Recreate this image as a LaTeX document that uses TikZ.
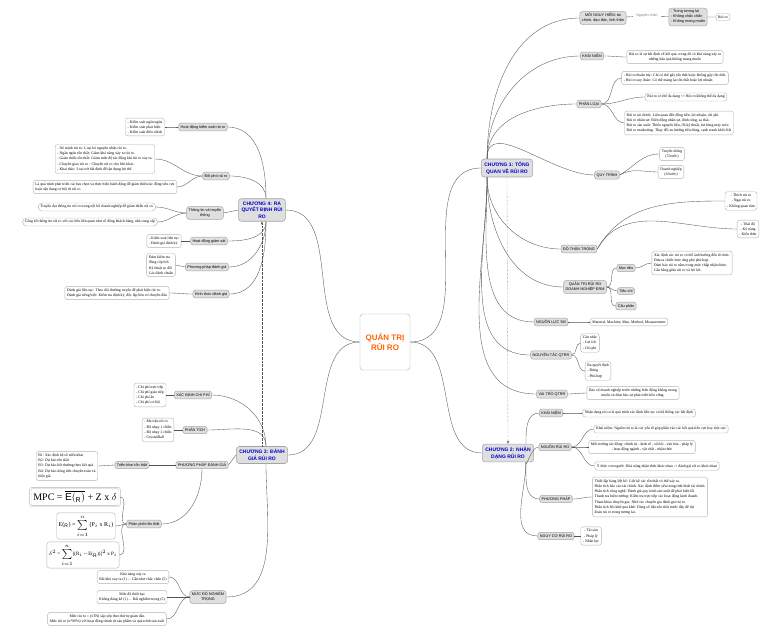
\documentclass[tikz,border=0pt]{standalone}
\usepackage{fontspec}
\setmainfont{Liberation Sans}
\newfontfamily\serf{Liberation Serif}
\usetikzlibrary{arrows.meta}
\begin{document}
\begin{tikzpicture}[x=1pt,y=-1pt,
  chap/.style={draw=gray!70,fill=gray!25,rounded corners=3pt,text=blue!80!black,font=\fontsize{5}{6.5}\selectfont\bfseries,align=center,inner sep=3pt,line width=0.6pt},
  sub/.style={draw=gray!70,fill=gray!25,rounded corners=2.5pt,font=\fontsize{3.8}{5}\selectfont,align=center,inner sep=2pt,line width=0.5pt},
  leaf/.style={draw=gray!60,fill=white,rounded corners=2.5pt,font=\serf\fontsize{3.8}{5.3}\selectfont,align=left,inner sep=2.2pt,line width=0.4pt},
  leafc/.style={leaf,align=center},
  ed/.style={draw=gray!65!black,line width=0.35pt},
  lr/.style={ed,out=0,in=180},
  rl/.style={ed,out=180,in=0}]
\useasboundingbox (0,0) rectangle (768,635);
\fill[white] (0,0) rectangle (768,635);

% center
\node[draw=gray!60,rounded corners=3pt,minimum width=50,minimum height=56,text=orange!80!red,font=\fontsize{8}{10}\selectfont\bfseries,align=center] (ctr) at (385,342) {QUẢN TRỊ\\RỦI RO};
\node[chap] (c1) at (507,168) {CHƯƠNG 1: TỔNG\\QUAN VỀ RỦI RO};
\node[chap] (c2) at (508,453) {CHƯƠNG 2: NHẬN\\DẠNG RỦI RO};
\node[chap] (c4) at (262,210) {CHƯƠNG 4: RA\\QUYẾT ĐỊNH RỦI\\RO};
\node[chap] (c3) at (262,455) {CHƯƠNG 3: ĐÁNH\\GIÁ RỦI RO};
\draw[ed] (ctr.east) to[out=0,in=180] (c1.west);
\draw[ed] (ctr.east) to[out=0,in=180] (c2.west);
\draw[ed] (ctr.west) to[out=180,in=0] (c4.east);
\draw[ed] (ctr.west) to[out=180,in=0] (c3.east);
\draw[ed,densely dotted,-{Stealth[length=3pt]}] (c1.south) -- (c2.north);
\draw[ed,densely dotted,-{Stealth[length=3pt]}] (c3.north) -- (c4.south);

% ---- chapter 1
\coordinate (c1t) at ([xshift=6]c1.north west);
\coordinate (c1b) at ([xshift=6]c1.south west);
\node[sub] (mn) at (603,18) {MỐI NGUY HIỂM: tài\\chính, đạo đức, tinh thần};
\node[font=\fontsize{3.6}{4}\selectfont,text=gray] (nn) at (647,16) {Nguyên nhân};
\node[sub,align=left] (tl) at (688,17) {- Trong tương lai\\- Không chắc chắn\\- Không mong muốn};
\node[leaf] (rr) at (723,17) {Rủi ro};
\draw[ed] (mn) -- (nn) -- (tl) -- (rr);
\node[sub] (kn) at (592,56) {KHÁI NIỆM};
\node[leafc] (knl) at (675,57) {Rủi ro là sự bất định về kết quả, trong đó có khả năng xảy ra\\những hậu quả không mong muốn};
\node[sub] (pl) at (589,104) {PHÂN LOẠI};
\node[leaf] (pl1) at (675,78) {- Rủi ro thuần túy: Chỉ có thể gây tổn thất hoặc không gây tổn thất.\\- Rủi ro suy đoán: Có thể mang lại tổn thất hoặc lợi nhuận};
\node[leaf] (pl2) at (686,97) {Rủi ro có thể đa dạng <> Rủi ro không thể đa dạng};
\node[leaf] (pl3) at (679,123) {Rủi ro tài chính: Liên quan đến đồng tiền, lợi nhuận, chi phí.\\Rủi ro nhân sự: Biến động nhân sự, đình công, sa thải.\\Rủi ro sản xuất: Thiếu nguyên liệu, lỗi kỹ thuật, hư hỏng máy móc.\\Rủi ro marketing: Thay đổi xu hướng tiêu dùng, cạnh tranh khốc liệt};
\node[sub] (qt) at (607,175) {QUY TRÌNH};
\node[leafc] (qt1) at (672,154) {Truyền thống\\(5 bước)};
\node[leafc] (qt2) at (671,172) {Doanh nghiệp\\(6 bước)};
\node[sub] (dt) at (579,249) {ĐỘ THẬN TRỌNG};
\node[leafc] (dt1) at (741,201) {- Thích rủi ro\\- Ngại rủi ro\\- Không quan tâm};
\node[leafc] (dt2) at (748,229) {- Thái độ\\- Kỹ năng\\- Kiến thức};
\node[sub] (erm) at (585,287) {QUẢN TRỊ RỦI RO\\DOANH NGHIỆP ERM};
\node[sub] (mt) at (626,268) {Mục tiêu};
\node[leaf] (mtl) at (692,263) {Xác định các rủi ro có thể ảnh hưởng đến tổ chức.\\Đưa ra chiến lược ứng phó phù hợp.\\Đảm bảo rủi ro nằm trong mức chấp nhận được.\\Cân bằng giữa rủi ro và lợi ích.};
\node[sub] (tc) at (626,291) {Tiêu chí};
\node[sub] (cp) at (626,306) {Cấu phần};
\node[sub] (nl) at (551,322) {NGUỒN LỰC 5M};
\node[leaf] (nll) at (629,322) {Material, Machine, Man, Method, Measurement};
\node[sub] (ng) at (551,355) {NGUYÊN TẮC QTRR};
\node[leaf] (ng1) at (590,343) {Cân nhắc\\- Lợi ích\\- Chi phí};
\node[leaf] (ng2) at (598,371) {Ra quyết định\\- Đúng\\- Phù hợp};
\node[sub] (vt) at (552,394) {VAI TRÒ QTRR};
\node[leafc] (vtl) at (633,393) {Bảo vệ doanh nghiệp trước những biến động không mong\\muốn và đảm bảo sự phát triển bền vững.};
\foreach \n in {mn,kn,pl,qt} \draw[ed] (c1t) to[out=90,in=180] (\n.west);
\foreach \n in {dt,erm,nl,ng,vt} \draw[ed] (c1b) to[out=-90,in=180] (\n.west);
\draw[lr] (kn.east) to (knl.west);
\foreach \n in {pl1,pl2,pl3} \draw[ed] (pl.east) to[out=0,in=180] (\n.west);
\foreach \n in {qt1,qt2} \draw[ed] (qt.east) to[out=30,in=180] (\n.west);
\foreach \n in {dt1,dt2} \draw[ed] (dt.east) to[out=60,in=180] (\n.west);
\foreach \n in {mt,tc,cp} \draw[ed] (erm.east) to[out=0,in=180] (\n.west);
\draw[lr] (mt.east) to (mtl.west);
\draw[lr] (nl.east) to (nll.west);
\foreach \n in {ng1,ng2} \draw[ed] (ng.east) to[out=0,in=180] (\n.west);
\draw[lr] (vt.east) to (vtl.west);

% ---- chapter 2
\coordinate (c2t) at ([xshift=-8]c2.north east);
\coordinate (c2b) at ([xshift=-8]c2.south east);
\node[sub] (kn2) at (551,413) {KHÁI NIỆM};
\node[leaf] (kn2l) at (639,413) {Nhận dạng rủi ro là quá trình xác định liên tục và hệ thống các bất định};
\node[sub] (ngr) at (555,447) {NGUỒN RỦI RO};
\node[leaf] (ngr1) at (661,429) {Khái niệm: Nguồn rủi ro là các yếu tố góp phần vào các kết quả tiêu cực hay tích cực};
\node[leafc] (ngr2) at (642,447) {Môi trường tác động: chính trị - kinh tế - xã hội - văn hóa - pháp lý\\- hoạt động ngành - vật chất - nhận thức};
\node[leaf] (ngr3) at (657,466) {Ý thức con người: Khả năng nhận thức khác nhau -> đánh giá rủi ro khác nhau};
\node[sub] (pp) at (556,499) {PHƯƠNG PHÁP};
\node[leaf] (ppl) at (650,497) {Thiết lập bảng liệt kê: Liệt kê các tổn thất có thể xảy ra.\\Phân tích báo cáo tài chính: Xác định điểm yếu trong tình hình tài chính.\\Phân tích công nghệ: Đánh giá quy trình sản xuất để phát hiện lỗi.\\Thanh tra hiện trường: Kiểm tra trực tiếp các hoạt động kinh doanh.\\Tham khảo chuyên gia: Nhờ các chuyên gia đánh giá rủi ro.\\Phân tích hồi khứ quá khứ: Dùng số liệu tổn thất trước đây để dự\\đoán rủi ro trong tương lai.};
\node[sub] (nc) at (556,536) {NGUY CƠ RỦI RO};
\node[leafc] (ncl) at (591,536) {- Tài sản\\- Pháp lý\\- Nhân lực};
\draw[ed] (c2t) to[out=90,in=180] (kn2.west);
\foreach \n in {ngr,pp,nc} \draw[ed] (c2b) to[out=-90,in=180] (\n.west);
\draw[lr] (kn2.east) to (kn2l.west);
\foreach \n in {ngr1,ngr2,ngr3} \draw[ed] (ngr.east) to[out=0,in=180] (\n.west);
\draw[lr] (pp.east) to (ppl.west);
\draw[lr] (nc.east) to (ncl.west);

% ---- chapter 4
\coordinate (c4t) at ([xshift=4]c4.north);
\coordinate (c4b) at ([xshift=4]c4.south);
\node[sub] (hk) at (203,127) {Hoạt động kiểm soát rủi ro};
\node[leaf] (hkl) at (145,127) {- Kiểm soát ngăn ngừa\\- Kiểm soát phát hiện\\- Kiểm soát điều chỉnh};
\node[sub] (dp) at (216,176) {Đối phó rủi ro};
\node[leaf] (dp1) at (105,159) {- Né tránh rủi ro: Loại bỏ nguyên nhân rủi ro.\\- Ngăn ngừa tổn thất: Giảm khả năng xảy ra rủi ro.\\- Giảm thiểu tổn thất: Giảm mức độ tác động khi rủi ro xảy ra.\\- Chuyển giao rủi ro : Chuyển rủi ro cho bên khác.\\- Khai thác: Loại trừ bất định để tận dụng lợi thế};
\node[leaf] (dp2) at (105,187) {Là quá trình phát triển các lựa chọn và thực hiện hành động để giảm thiểu tác động tiêu cực\\hoặc tận dụng cơ hội từ rủi ro.};
\node[sub] (tt) at (205,213) {Thông tin và truyền\\thông};
\node[leafc,rounded corners=4pt] (tt1) at (97,207) {Truyền đạt thông tin rủi ro trong nội bộ doanh nghiệp để giảm thiểu rủi ro.};
\node[leafc,rounded corners=4pt] (tt2) at (90,222) {Công bố thông tin rủi ro với các bên liên quan như cổ đông khách hàng, nhà cung cấp};
\node[sub] (gs) at (209,241) {Hoạt động giám sát};
\node[leaf] (gsl) at (164,241) {- Kiểm soát liên tục\\- Đánh giá định kỳ};
\node[sub] (ppd) at (207,267) {Phương pháp đánh giá};
\node[leaf] (ppdl) at (161,265) {Đảm kiểm tra\\đồng cấp bởi\\Kỹ thuật so đối\\Các đánh chuẩn};
\node[sub] (ht) at (211,294) {Hình thức đánh giá};
\node[leaf] (htl) at (117,293) {Đánh giá liên tục: Theo dõi thường xuyên để phát hiện rủi ro.\\Đánh giá riêng biệt: Kiểm tra định kỳ, độc lập bên cơ chuyên đầu};
\foreach \n in {hk,dp} \draw[ed] (c4t) to[out=90,in=0] (\n.east);
\draw[ed] (c4.west) -- (tt.east);
\foreach \n in {gs,ppd,ht} \draw[ed] (c4b) to[out=-90,in=0] (\n.east);
\draw[rl] (hk.west) to (hkl.east);
\foreach \n in {dp1,dp2} \draw[ed] (dp.west) to[out=180,in=0] (\n.east);
\foreach \n in {tt1,tt2} \draw[ed] (tt.west) to[out=180,in=0] (\n.east);
\draw[rl] (gs.west) to (gsl.east);
\draw[rl] (ppd.west) to (ppdl.east);
\draw[rl] (ht.west) to (htl.east);

% ---- chapter 3
\coordinate (c3t) at ([xshift=4]c3.north);
\coordinate (c3b) at ([xshift=4]c3.south);
\node[sub] (xd) at (193,395) {XÁC ĐỊNH CHI PHÍ};
\node[leaf] (xdl) at (150,395) {- Chi phí trực tiếp\\- Chi phí gián tiếp\\- Chi phí ẩn\\- Chi phí cơ hội};
\node[sub] (pt) at (195,430) {PHÂN TÍCH};
\node[leaf] (ptl) at (158,430) {- Ma trận rủi ro\\- Độ nhạy 1 chiều\\- Độ nhạy 2 chiều\\- CrystalBall};
\node[sub] (ppg) at (202,465) {PHƯƠNG PHÁP ĐÁNH GIÁ};
\node[sub] (tk) at (132,465) {Triển khai tổn thất};
\node[leaf] (tkl) at (67,466) {B1: Xác định hệ số triển khai\\B2: Dự báo tổn thất\\B3: Dự báo kết thường theo kết quả\\B4: Dự báo dòng tiền chuyên toán và\\hiện giá};
\node[sub] (pp3) at (144,524) {Phân phối tổn thất};
\node[draw=gray!60,double,double distance=1pt,fill=white,rounded corners=2pt,inner sep=3pt,font=\serf\fontsize{10}{12}\selectfont] (f1) at (75,497) {MPC = $\overline{\mathrm{E}(_{\mathrm{R}})}$ + Z x $\delta$};
\node[leaf,font=\serf\fontsize{6}{7}\selectfont,inner sep=2pt] (f2) at (86,526) {E($_\mathrm{R}$) = $\sum\limits_{i=1}^{n}$ (P$_i$ x R$_i$)};
\node[leaf,font=\serf\fontsize{5}{6}\selectfont,inner sep=2pt] (f3) at (83,555) {$\delta^2$ = $\sum\limits_{i=1}^{n}$[(R$_i$ -- E($_\mathrm{R}$))]$^2$ x P$_i$};
\node[sub] (md) at (208,597) {MỨC ĐỘ NGHIÊM\\TRỌNG};
\node[leafc] (md1) at (133,577) {Khả năng xảy ra\\Rất khó xảy ra (1) ... Gần như chắc chắn (5)};
\node[leafc] (md2) at (132,597) {Mức độ thiệt hại\\Không đáng kể (1) ... Rất nghiêm trọng (5)};
\node[leafc] (md3) at (107,619) {Mức rủi ro = (xTN) sắp xếp theo thứ tự giảm dần\\Mức rủi ro (x*M*n) với hoạt động chính từ sản phẩm và quá trình sản xuất};
\foreach \n in {xd,pt} \draw[ed] (c3t) to[out=90,in=0] (\n.east);
\draw[ed] (c3.west) -- (ppg.east);
\draw[ed] (c3b) to[out=-90,in=0] (md.east);
\draw[ed] (ppg.west) -- (tk.east);
\draw[ed] (tk.west) -- (tkl.east);
\draw[ed] (ppg.south) to[out=-90,in=0] (pp3.east);
\foreach \n in {f1,f2,f3} \draw[ed] (pp3.west) to[out=180,in=0] (\n.east);
\draw[rl] (xd.west) to (xdl.east);
\draw[rl] (pt.west) to (ptl.east);
\foreach \n in {md1,md2,md3} \draw[ed] (md.west) to[out=180,in=0] (\n.east);
\end{tikzpicture}
\end{document}
